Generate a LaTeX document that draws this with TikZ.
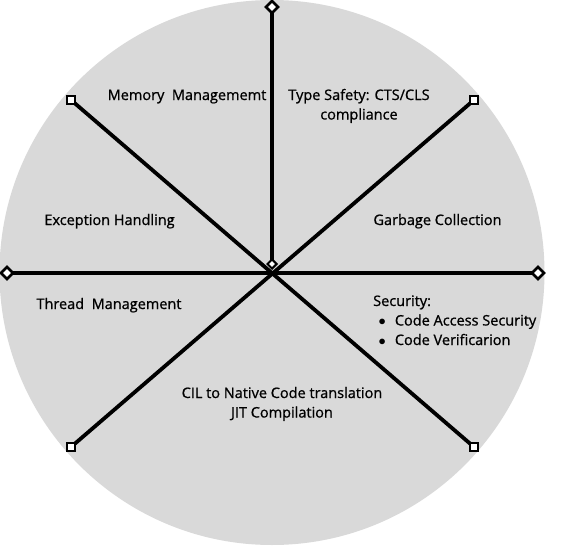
\documentclass[tikz,border=0pt]{standalone}
\usepackage{fontspec}
\setmainfont{Open Sans}[FakeBold=0.9]
\usetikzlibrary{shapes.geometric,backgrounds,positioning}
\definecolor{disc}{HTML}{D9D9D9}

\begin{document}
\begin{tikzpicture}[x=1pt,y=-1pt,
    spoke/.style={line width=3.8pt},
    tipd/.style={diamond,draw,fill=white,line width=2.6pt,inner sep=0pt,minimum size=13pt},
    tips/.style={rectangle,draw,fill=white,line width=2.8pt,inner sep=0pt,minimum size=8pt},
    lbl/.style={font=\fontsize{14.5}{19.5}\selectfont,text=black,inner sep=0pt,anchor=base}]

    \useasboundingbox (0,0) rectangle (563,546);

    % ends of the spokes
    \node[tipd] (top) at (272,7) {};
    \node[tipd,minimum size=10pt,line width=2pt] (mid) at (272,264) {};
    \node[tipd] (left) at (7,273) {};
    \node[tipd] (right) at (538,273) {};
    \node[tips] (tl) at (71,100) {};
    \node[tips] (tr) at (474,100) {};
    \node[tips] (bl) at (71,447) {};
    \node[tips] (br) at (474,447) {};

    \begin{scope}[on background layer]
        \fill[disc] (272,272.5) circle (272.5pt);
        \draw[spoke] (left.center) -- (right.center);
        \draw[spoke] (top.center) -- (mid.center);
        \draw[spoke] (tl.center) -- (br.center);
        \draw[spoke] (tr.center) -- (bl.center);
    \end{scope}

    % labels (base = last line)
    \node[lbl] (mem) at (187,100) {Memory\ \ Managememt};
    \node[lbl,align=center] (type) at (359,119.5) {Type Safety: CTS/CLS\\compliance};
    \node[lbl] (exc) at (109.5,225) {Exception Handling};
    \node[lbl] (gc) at (437.5,225) {Garbage Collection};
    \node[lbl] (thr) at (109,309) {Thread\ \ Management};
    \node[lbl,anchor=base west,align=left] (sec) at (373,345)
        {Security:\\\hspace{5.5pt}$\bullet$\hspace{9pt}Code Access Security\\\hspace{5.5pt}$\bullet$\hspace{9pt}Code Verificarion};
    \node[lbl,align=center] (cil) at (282,417.5) {CIL to Native Code translation\\JIT Compilation};

\end{tikzpicture}
\end{document}
